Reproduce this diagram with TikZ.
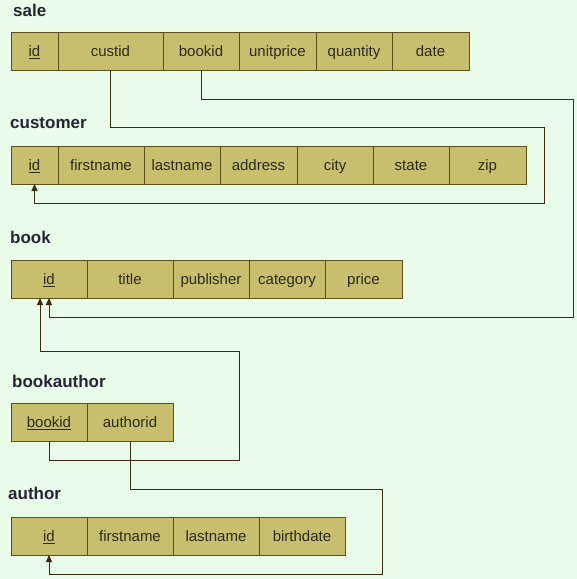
\documentclass[tikz,border=0pt]{standalone}
\usepackage{fontspec}
\setmainfont{Liberation Sans}
\usetikzlibrary{positioning,arrows.meta}
\definecolor{bgmint}{HTML}{E8FCE9}
\definecolor{cellfill}{HTML}{C8BF6E}
\definecolor{cellline}{HTML}{5E4E18}
\definecolor{celltext}{HTML}{2E2A1C}
\definecolor{lbltext}{HTML}{262633}
\definecolor{fkline}{HTML}{3A2A14}
\begin{document}
\begin{tikzpicture}[x=1pt,y=-1pt,
  cell/.style={draw=cellline,fill=cellfill,line width=0.9pt,minimum height=38pt,
    inner sep=0pt,outer sep=0pt,text height=14pt,text depth=2.5pt,
    text=celltext,font=\fontsize{15}{18}\selectfont},
  tbl/.style={anchor=west,inner sep=0pt,text=lbltext,font=\fontsize{17}{20}\selectfont\bfseries},
  fk/.style={draw=fkline,line width=0.9pt,-{Triangle[width=6pt,length=7pt]}}]
% Background
\useasboundingbox (0,0) rectangle (577,579);
\fill[bgmint] (0,0) rectangle (577,579);

% sale
\node[tbl] (lbl-sale) at (13,10) {sale};
\node[cell,minimum width=47pt,anchor=north west] (sale-id) at (11,32) {\underline{id}};
\node[cell,minimum width=105pt,right=0pt of sale-id] (sale-custid) {custid};
\node[cell,minimum width=76pt,right=0pt of sale-custid] (sale-bookid) {bookid};
\node[cell,minimum width=77pt,right=0pt of sale-bookid] (sale-unitprice) {unitprice};
\node[cell,minimum width=76pt,right=0pt of sale-unitprice] (sale-quantity) {quantity};
\node[cell,minimum width=77pt,right=0pt of sale-quantity] (sale-date) {date};

% customer
\node[tbl] (lbl-customer) at (10,123) {customer};
\node[cell,minimum width=47pt,anchor=north west] (cust-id) at (11,146) {\underline{id}};
\node[cell,minimum width=86pt,right=0pt of cust-id] (cust-firstname) {firstname};
\node[cell,minimum width=76pt,right=0pt of cust-firstname] (cust-lastname) {lastname};
\node[cell,minimum width=77pt,right=0pt of cust-lastname] (cust-address) {address};
\node[cell,minimum width=76pt,right=0pt of cust-address] (cust-city) {city};
\node[cell,minimum width=76pt,right=0pt of cust-city] (cust-state) {state};
\node[cell,minimum width=77pt,right=0pt of cust-state] (cust-zip) {zip};

% book
\node[tbl] (lbl-book) at (10,237) {book};
\node[cell,minimum width=76pt,anchor=north west] (book-id) at (11,260) {\underline{id}};
\node[cell,minimum width=86pt,right=0pt of book-id] (book-title) {title};
\node[cell,minimum width=76pt,right=0pt of book-title] (book-publisher) {publisher};
\node[cell,minimum width=76pt,right=0pt of book-publisher] (book-category) {category};
\node[cell,minimum width=77pt,right=0pt of book-category] (book-price) {price};

% bookauthor
\node[tbl] (lbl-bookauthor) at (12,381) {bookauthor};
\node[cell,minimum width=76pt,anchor=north west] (ba-bookid) at (11,403) {\underline{bookid}};
\node[cell,minimum width=86pt,right=0pt of ba-bookid] (ba-authorid) {authorid};

% author
\node[tbl] (lbl-author) at (8,493) {author};
\node[cell,minimum width=76pt,anchor=north west] (author-id) at (11,517) {\underline{id}};
\node[cell,minimum width=86pt,right=0pt of author-id] (author-firstname) {firstname};
\node[cell,minimum width=86pt,right=0pt of author-firstname] (author-lastname) {lastname};
\node[cell,minimum width=86pt,right=0pt of author-lastname] (author-birthdate) {birthdate};

% Foreign keys
\draw[fk] (sale-custid.south) |- (544,127) -- (544,203) -| (cust-id.south);
\draw[fk] (sale-bookid.south) |- (573,99) -- (573,317) -| (book-id.south);
\draw[fk] (ba-bookid.south) |- (239,460) -- (239,351) -| ([xshift=-9pt]book-id.south);
\draw[fk] (ba-authorid.south) |- (382,489) -- (382,574) -| (author-id.south);
\end{tikzpicture}
\end{document}
